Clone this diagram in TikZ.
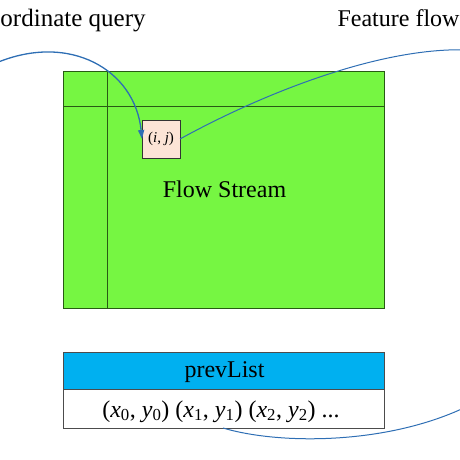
\documentclass[tikz,border=0pt]{standalone}
\usepackage{fontspec}
\setmainfont{Liberation Serif}
\usetikzlibrary{arrows.meta,positioning}

\definecolor{fieldgreen}{RGB}{118,246,66}
\definecolor{edgegreen}{RGB}{40,90,20}
\definecolor{headblue}{RGB}{0,176,240}
\definecolor{cellpeach}{RGB}{252,228,214}
\definecolor{curveblue}{RGB}{46,110,180}

\begin{document}
\begin{tikzpicture}[
  x=1pt, y=-1pt,
  every node/.style={inner sep=0pt, outer sep=0pt},
  field/.style={draw=edgegreen, fill=fieldgreen, line width=0.8pt,
    minimum width=321pt, minimum height=237pt},
  gridline/.style={draw=edgegreen, line width=0.8pt},
  cellbox/.style={draw=black!80, fill=cellpeach, line width=0.6pt,
    minimum size=38pt, font=\fontsize{15}{17}\selectfont},
  headbox/.style={draw=black!70, fill=headblue, line width=0.6pt,
    minimum width=321pt, minimum height=37pt},
  rowbox/.style={draw=black!70, fill=white, line width=0.6pt,
    minimum width=321pt, minimum height=39pt},
  caption/.style={anchor=base, font=\fontsize{24}{28}\selectfont},
  flowline/.style={draw=curveblue, line width=1pt},
  queryline/.style={draw=curveblue, line width=1.3pt,
    -{Triangle[length=9pt,width=6pt]}}
]
\clip (0,0) rectangle (460,460);

% flow stream grid
\node[field, anchor=north west] (stream) at (63,71) {};
\coordinate (hl) at (63,106);
\coordinate (hr) at (384,106);
\coordinate (vt) at (107,71);
\coordinate (vb) at (107,308);
\draw[gridline] (hl) -- (hr);
\draw[gridline] (vt) -- (vb);
\node[cellbox, anchor=north west] (cell) at (142,120) {(\textit{i}, \textit{j})};
\node[caption] (streamtext) at (224.5,197) {Flow Stream};

% previous list
\node[headbox, anchor=north west] (prev) at (63,352) {};
\node[rowbox, anchor=north] (items) at (prev.south) {};
\node[caption] (prevtext) at (224.5,377) {prevList};
\node[caption] (itemtext) at (221,417)
  {(\textit{x}\textsubscript{0}, \textit{y}\textsubscript{0})
   (\textit{x}\textsubscript{1}, \textit{y}\textsubscript{1})
   (\textit{x}\textsubscript{2}, \textit{y}\textsubscript{2}) ...};

% labels at the top
\node[caption, anchor=base west, font=\fontsize{25}{29}\selectfont] (query) at (0.5,27) {ordinate query};
\node[caption, anchor=base east] (feature) at (459.5,27) {Feature flow};

% connectors
\coordinate (qin) at (-4,63);
\coordinate (fout) at (470,50);
\coordinate (lout) at (470,405);
\coordinate (lin) at (223,428);
\draw[queryline] (qin) .. controls (70,32) and (135,70) .. (cell.west);
\draw[flowline] (cell.east) .. controls (260,95) and (380,46) .. (fout);
\draw[flowline] (lin) .. controls (280,445) and (390,445) .. (lout);
\end{tikzpicture}
\end{document}
